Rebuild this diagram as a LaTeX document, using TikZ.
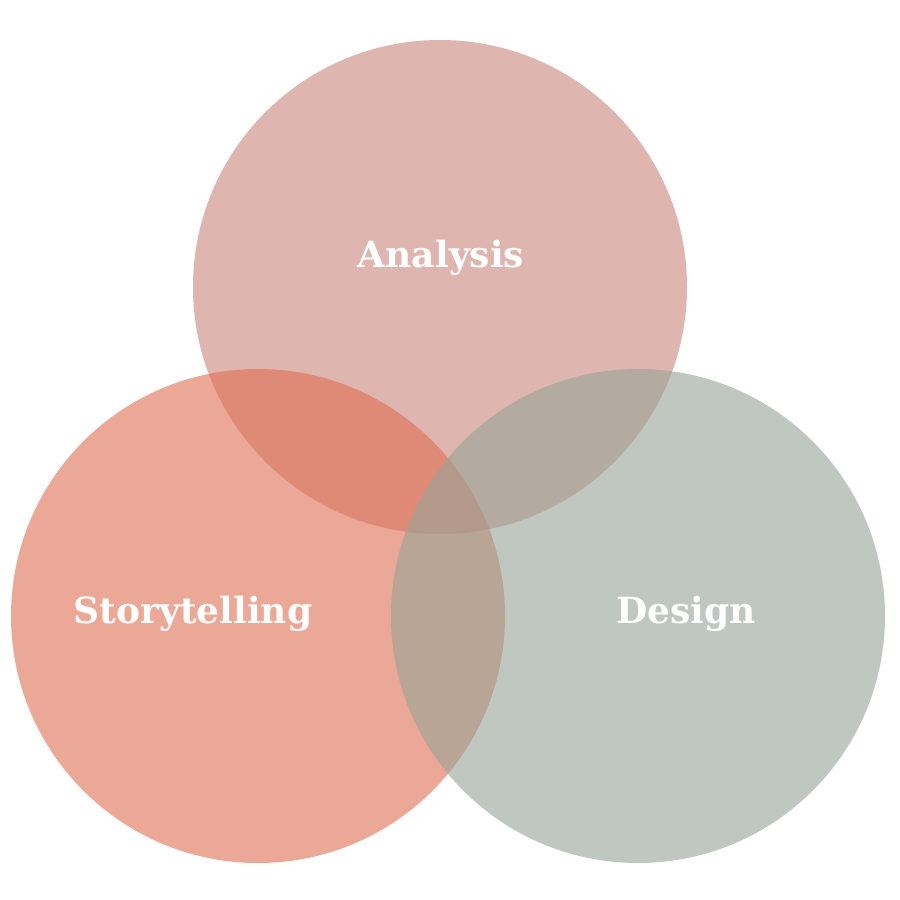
\documentclass[tikz,border=0pt]{standalone}
\usepackage{fontspec}
\setmainfont{DejaVu Serif}
\definecolor{ca}{HTML}{CA847B}
\definecolor{cs}{HTML}{DF6E53}
\definecolor{cd}{HTML}{96A396}
\begin{document}
\begin{tikzpicture}[x=1pt,y=-1pt,
  venn/.style={fill opacity=0.6,draw=none},
  lab/.style={text=white,font=\bfseries\fontsize{36}{40}\selectfont}]
\useasboundingbox (0,0) rectangle (900,900);
\fill[white] (0,0) rectangle (900,900);
\fill[venn,ca] (440,287) circle (247);
\fill[venn,cs] (258,616) circle (247);
\fill[venn,cd] (638,616) circle (247);
\node[lab] (a) at (441,258) {Analysis};
\node[lab] (s) at (193,614) {Storytelling};
\node[lab] (d) at (686,614) {Design};
\end{tikzpicture}
\end{document}
